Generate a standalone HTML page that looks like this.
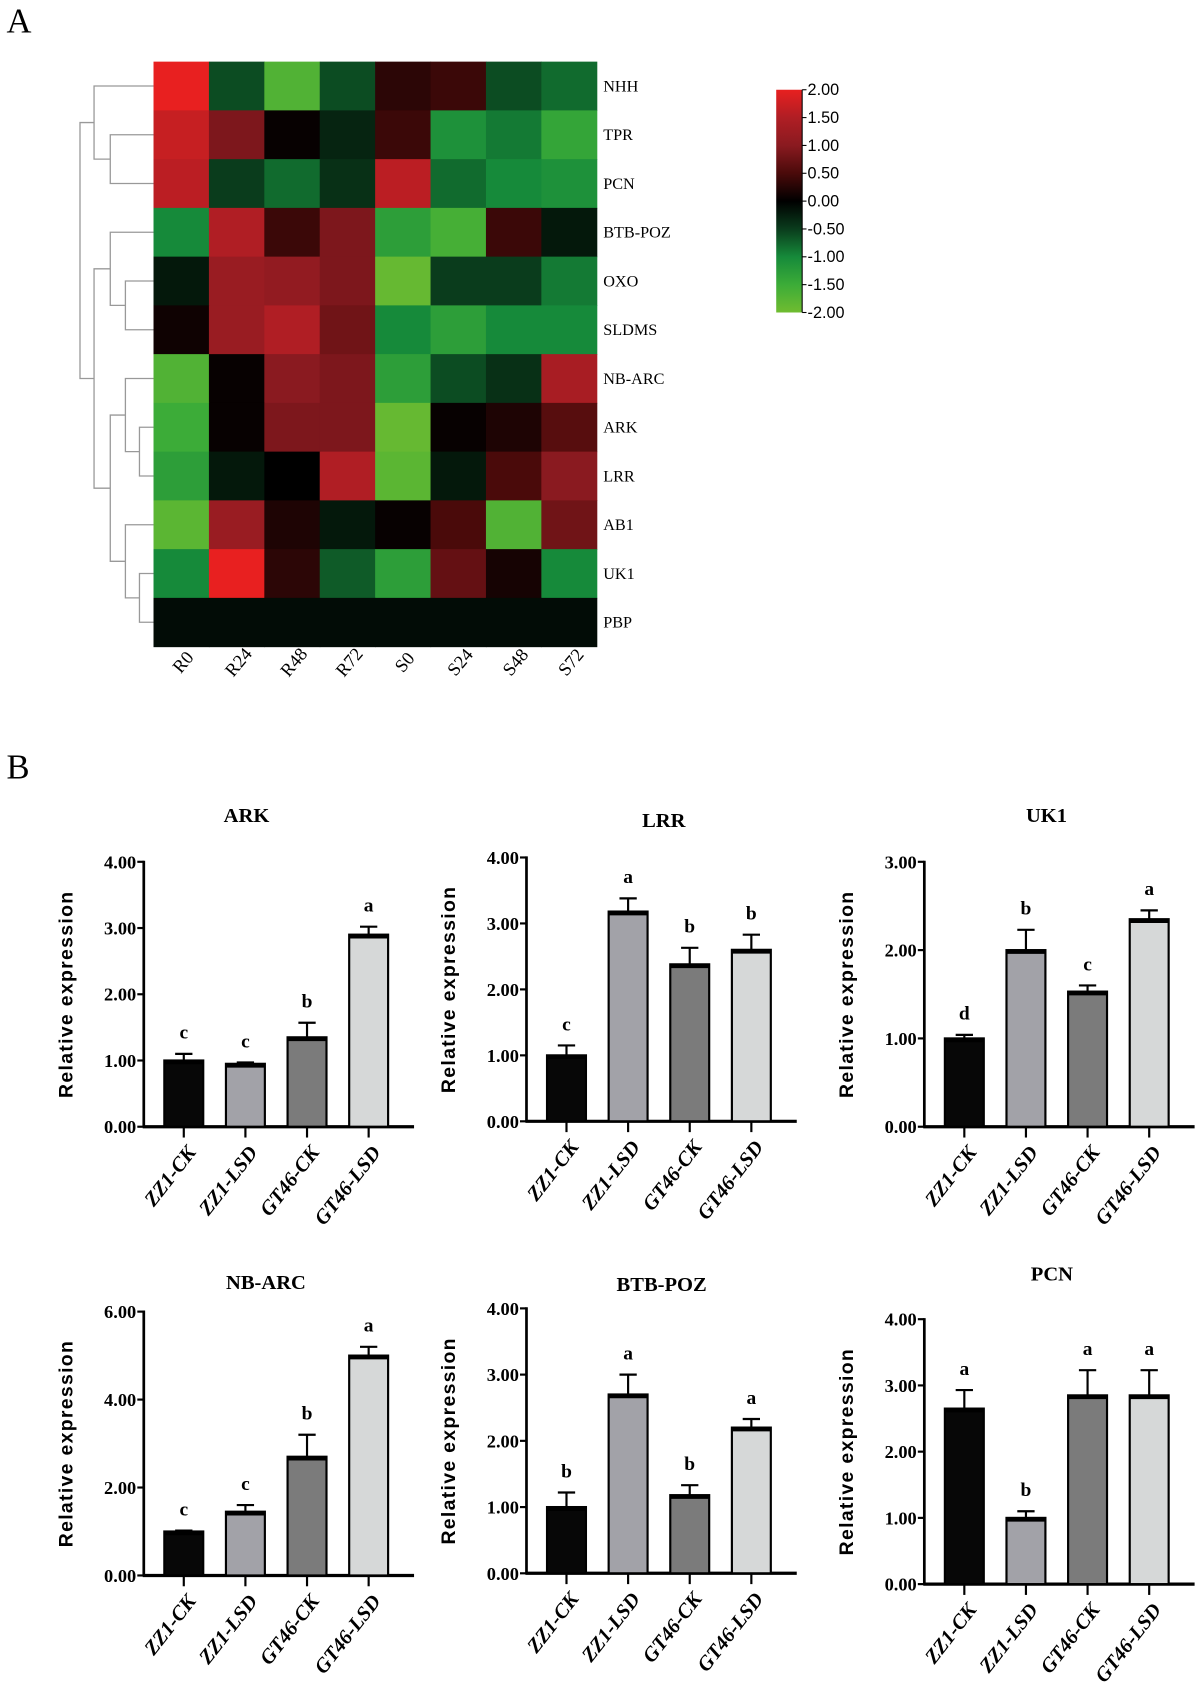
<!DOCTYPE html>
<html><head><meta charset="utf-8"><style>
html,body{margin:0;padding:0;background:#fff;}
svg{display:block;font-family:"Liberation Serif",serif;}
</style></head><body>
<svg id="fig" width="1200" height="1689" viewBox="0 0 1110 1562" preserveAspectRatio="none" xmlns="http://www.w3.org/2000/svg">
<text x="6" y="30" font-size="32">A</text>
<text x="6" y="720" font-size="32">B</text>
<g id="heat"></g>
<g id="bars"></g>
</svg>
<script>
const hmCols = ["R0","R24","R48","R72","S0","S24","S48","S72"];
const hmRows = ["NHH","TPR","PCN","BTB-POZ","OXO","SLDMS","NB-ARC","ARK","LRR","AB1","UK1","PBP"];
const hmValues = [
 [2.0,-0.6,-1.7,-0.6,0.3,0.4,-0.6,-0.8],
 [1.7,0.9,0.05,-0.3,0.4,-1.1,-0.9,-1.4],
 [1.6,-0.5,-0.8,-0.4,1.6,-0.8,-1.0,-1.1],
 [-1.0,1.5,0.4,0.9,-1.3,-1.6,0.4,-0.2],
 [-0.2,1.2,1.1,0.9,-1.9,-0.5,-0.5,-0.9],
 [0.1,1.2,1.5,0.8,-1.0,-1.3,-1.0,-1.0],
 [-1.7,0.05,1.0,0.9,-1.3,-0.6,-0.4,1.4],
 [-1.5,0.05,0.9,0.9,-1.9,0.05,0.2,0.6],
 [-1.3,-0.2,0.0,1.5,-1.8,-0.2,0.5,1.0],
 [-1.8,1.2,0.2,-0.2,0.05,0.5,-1.7,0.8],
 [-1.0,2.0,0.3,-0.7,-1.3,0.7,0.15,-1.0],
 [-0.1,-0.1,-0.1,-0.1,-0.1,-0.1,-0.1,-0.1]
];
const cbTicks = ["2.00","1.50","1.00","0.50","0.00","-0.50","-1.00","-1.50","-2.00"];

const NS="http://www.w3.org/2000/svg";
function mk(tag,attrs,parent){const e=document.createElementNS(NS,tag);for(const k in attrs)e.setAttribute(k,attrs[k]);parent.appendChild(e);return e;}
const stops=[[-2,[112,188,48]],[-1.5,[60,172,56]],[-1,[22,138,58]],[-0.5,[10,60,28]],[0,[0,0,0]],[0.5,[74,10,10]],[1,[138,26,32]],[1.5,[176,30,36]],[2,[232,32,32]]];
function color(v){v=Math.max(-2,Math.min(2,v));for(let i=0;i<stops.length-1;i++){const a=stops[i],b=stops[i+1];if(v<=b[0]){const t=(v-a[0])/(b[0]-a[0]);const c=a[1].map((x,j)=>Math.round(x+(b[1][j]-x)*t));return "rgb("+c.join(",")+")";}}return "rgb(232,32,32)";}

const heat=document.getElementById('heat');
const hx0=142,hx1=552,hy0=57,hy1=598;
const cw=(hx1-hx0)/hmCols.length, rh=(hy1-hy0)/hmRows.length;
hmValues.forEach((row,r)=>row.forEach((v,c)=>{
 const e=mk('rect',{x:hx0+c*cw,y:hy0+r*rh,width:cw+0.5,height:rh+0.5,fill:color(v)},heat);
 
 
}));
hmRows.forEach((n,r)=>{const t=mk('text',{x:558,y:hy0+r*rh+rh/2+5,'font-size':15},heat);t.textContent=n;
 
 });
hmCols.forEach((n,c)=>{const cx=hx0+c*cw+cw/2+6,cy=616;const t=mk('text',{x:cx,y:cy,'font-size':17,'text-anchor':'middle',transform:`rotate(-50 ${cx} ${cy})`},heat);t.textContent=n;
 
 });
// dendrogram
const rowY=i=>hy0+i*rh+rh/2;
function node(x,a,b){return {x:x,y:(a.y+b.y)/2,a:a,b:b};}
const L=i=>({x:hx0,y:rowY(i)});
const tpCl=node(102,L(1),L(2)), topCl=node(87,L(0),tpCl);
const osCl=node(116,L(4),L(5)), btbCl=node(102,L(3),osCl);
const alCl=node(129,L(7),L(8)), nbCl=node(116,L(6),alCl);
const upCl=node(129,L(10),L(11)), abCl=node(116,L(9),upCl);
const low2Cl=node(102,nbCl,abCl), lowCl=node(87,btbCl,low2Cl), rootCl=node(74,topCl,lowCl);
const dg=mk('g',{stroke:'#999','stroke-width':1.2,fill:'none'},heat);


function drawNode(n){if(!n.a)return;mk('path',{d:`M${n.a.x} ${n.a.y}H${n.x}V${n.b.y}H${n.b.x}`},dg);drawNode(n.a);drawNode(n.b);}
drawNode(rootCl);
// colorbar
const cb=mk('g',{},heat);


const defs=mk('defs',{},heat);const lg=mk('linearGradient',{id:'cbg',x1:0,y1:0,x2:0,y2:1},defs);
stops.slice().reverse().forEach((s,i)=>mk('stop',{offset:(i/8),'stop-color':color(s[0])},lg));
mk('rect',{x:718,y:83,width:24,height:206,fill:'url(#cbg)'},cb);
mk('line',{x1:742,y1:83,x2:742,y2:289,stroke:'#000','stroke-width':1},cb);
cbTicks.forEach((t,i)=>{const y=83+i*206/8;mk('line',{x1:742,y1:y,x2:746,y2:y,stroke:'#000'},cb);
 const e=mk('text',{x:747,y:y+5,'font-size':15,'font-family':'Liberation Sans, sans-serif'},cb);e.textContent=t;});

// ---- bar charts ----
const groups = ["ZZ1-CK","ZZ1-LSD","GT46-CK","GT46-LSD"];
const arkVals=[1.0,0.95,1.35,2.9], arkErr=[0.1,0.02,0.22,0.12], arkSig=["c","c","b","a"];
const lrrVals=[1.0,3.18,2.38,2.6], lrrErr=[0.15,0.2,0.25,0.23], lrrSig=["c","a","b","b"];
const uk1Vals=[1.0,2.0,1.53,2.35], uk1Err=[0.04,0.23,0.07,0.1], uk1Sig=["d","b","c","a"];
const nbVals=[1.0,1.45,2.7,5.0], nbErr=[0.02,0.15,0.5,0.2], nbSig=["c","c","b","a"];
const btbVals=[1.0,2.7,1.18,2.2], btbErr=[0.22,0.3,0.15,0.13], btbSig=["b","a","b","a"];
const pcnVals=[2.65,1.0,2.85,2.85], pcnErr=[0.28,0.1,0.38,0.38], pcnSig=["a","b","a","a"];
const arkTicks=["0.00","1.00","2.00","3.00","4.00"];
const lrrTicks=["0.00","1.00","2.00","3.00","4.00"];
const uk1Ticks=["0.00","1.00","2.00","3.00"];
const nbTicks=["0.00","2.00","4.00","6.00"];
const btbTicks=["0.00","1.00","2.00","3.00","4.00"];
const pcnTicks=["0.00","1.00","2.00","3.00","4.00"];
const fills=["#070707","#a2a2a8","#7b7b7b","#d6d8d8"];

const barsG=document.getElementById('bars');
function chart(id,title,vals,errs,sig,ticks,ax,y0,yTop,titleX,titleY){
 const g=mk('g',{},barsG);
 
 
 const max=parseFloat(ticks[ticks.length-1]);
 const ys=v=>y0-(v/max)*(y0-yTop);
 const t=mk('text',{x:titleX,y:titleY,'font-size':19,'font-weight':'bold','text-anchor':'middle'},g);t.textContent=title;
 
 
 const yl=mk('text',{x:0,y:0,'font-size':18,'font-weight':'bold','letter-spacing':1.2,'text-anchor':'middle',transform:`translate(${ax-66} ${(y0+yTop)/2}) rotate(-90)`,'font-family':'Liberation Sans, sans-serif'},g);yl.textContent='Relative expression';
 
 
 mk('line',{x1:ax,y1:yTop-1,x2:ax,y2:y0,stroke:'#000','stroke-width':2.5},g);
 mk('line',{x1:ax-1,y1:y0,x2:ax+250,y2:y0,stroke:'#000','stroke-width':3},g);
 ticks.forEach(tk=>{const y=ys(parseFloat(tk));mk('line',{x1:ax-6,y1:y,x2:ax,y2:y,stroke:'#000','stroke-width':2},g);
  const e=mk('text',{x:ax-7,y:y+6,'font-size':17,'font-weight':'bold','text-anchor':'end'},g);e.textContent=tk;});
 vals.forEach((v,i)=>{
  const cx=ax+37+i*57, bw=36, y=ys(v);
  const r=mk('rect',{x:cx-bw/2,y:y,width:bw,height:y0-y,fill:fills[i],stroke:'#000','stroke-width':2},g);
  
  
  mk('line',{x1:cx-bw/2,y1:y+1.5,x2:cx+bw/2,y2:y+1.5,stroke:'#000','stroke-width':4},g);
  const ye=ys(v+errs[i]);
  mk('path',{d:`M${cx} ${y}V${ye}M${cx-8} ${ye}H${cx+8}`,stroke:'#000','stroke-width':2,fill:'none'},g);
  const s=mk('text',{x:cx,y:ye-14,'font-size':18,'font-weight':'bold','text-anchor':'middle'},g);s.textContent=sig[i];
  
  
  mk('line',{x1:cx,y1:y0,x2:cx,y2:y0+10,stroke:'#000','stroke-width':2},g);
  const lx=cx+12,ly=y0+24;
  const lb=mk('text',{x:lx,y:ly,'font-size':19,'font-weight':'bold','font-style':'italic','text-anchor':'end',transform:`rotate(-52 ${lx} ${ly})`},g);lb.textContent=groups[i];
  
  
 });
}
chart('ark','ARK',arkVals,arkErr,arkSig,arkTicks,133,1042,797,228,760);
chart('lrr','LRR',lrrVals,lrrErr,lrrSig,lrrTicks,487,1037,793,614,765);
chart('uk1','UK1',uk1Vals,uk1Err,uk1Sig,uk1Ticks,855,1042,797,968,760);
chart('nb-arc','NB-ARC',nbVals,nbErr,nbSig,nbTicks,133,1457,1213,246,1192);
chart('btb-poz','BTB-POZ',btbVals,btbErr,btbSig,btbTicks,487,1455,1210,612,1194);
chart('pcn','PCN',pcnVals,pcnErr,pcnSig,pcnTicks,855,1465,1220,973,1184);
</script>
</body></html>
